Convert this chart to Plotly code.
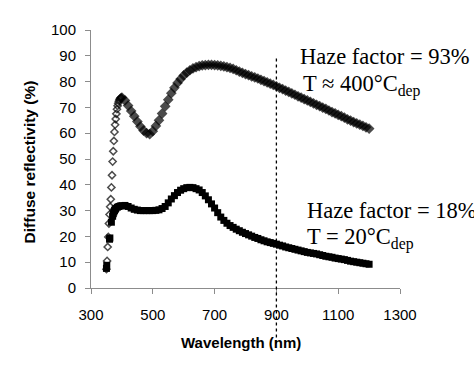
import plotly.graph_objects as go

# Haze factor = 93 % (T ~ 400 C) -- open diamonds
wl_hi = [350, 352, 354, 356, 358, 360, 362, 364, 366, 368, 370, 372, 374, 376, 378,
         380, 382, 384, 386, 388, 390, 392, 394, 396, 398, 400,
         410, 420, 430, 440, 450, 460, 470, 480, 490, 500,
         510, 520, 530, 540, 550, 560, 570, 580, 590, 600,
         610, 620, 630, 640, 650, 660, 670, 680, 690, 700,
         710, 720, 730, 740, 750, 760, 770, 780, 790, 800,
         810, 820, 830, 840, 850, 860, 870, 880, 890, 900,
         910, 920, 930, 940, 950, 960, 970, 980, 990, 1000,
         1010, 1020, 1030, 1040, 1050, 1060, 1070, 1080, 1090, 1100,
         1110, 1120, 1130, 1140, 1150, 1160, 1170, 1180, 1190, 1200]
r_hi = [7.3, 10.5, 15.9, 19.8, 25.0, 28.5, 31.5, 34.4, 39.0, 43.7, 49.0, 53.0, 57.0, 60.5, 63.3,
        65.5, 67.5, 69.3, 70.6, 71.6, 72.4, 73.0, 73.4, 73.7, 73.8, 73.8,
        72.7, 70.7, 68.6, 66.6, 64.5, 62.6, 61.0, 60.0, 59.6, 60.8,
        62.8, 65.0, 67.6, 70.4, 73.0, 75.5, 77.6, 79.5, 81.0, 82.4,
        83.5, 84.4, 85.1, 85.6, 86.0, 86.3, 86.4, 86.5, 86.5, 86.4,
        86.3, 86.1, 85.9, 85.6, 85.3, 84.9, 84.4, 83.9, 83.4, 82.9,
        82.5, 82.0, 81.6, 81.2, 80.7, 80.2, 79.7, 79.2, 78.7, 78.2,
        77.6, 77.1, 76.5, 76.0, 75.4, 74.9, 74.3, 73.8, 73.2, 72.7,
        72.1, 71.6, 71.0, 70.5, 69.9, 69.4, 68.8, 68.2, 67.7, 67.1,
        66.6, 66.0, 65.4, 64.9, 64.3, 63.8, 63.3, 62.8, 62.3, 61.8]

# Haze factor = 18 % (T = 20 C) -- filled squares
wl_lo = [350, 351, 360, 361, 366, 370, 372, 374, 376, 378, 380, 385, 390, 395, 400,
         410, 420, 430, 440, 450, 460, 470, 480, 490, 500,
         510, 520, 530, 540, 550, 560, 570, 580, 590, 600,
         610, 620, 630, 640, 650, 660, 670, 680, 690, 700,
         710, 720, 730, 740, 750, 760, 770, 780, 790, 800,
         810, 820, 830, 840, 850, 860, 870, 880, 890, 900,
         910, 920, 930, 940, 950, 960, 970, 980, 990, 1000,
         1010, 1020, 1030, 1040, 1050, 1060, 1070, 1080, 1090, 1100,
         1110, 1120, 1130, 1140, 1150, 1160, 1170, 1180, 1190, 1200]
r_lo = [7.6, 8.8, 18.9, 19.4, 25.5, 27.8, 28.8, 29.5, 30.0, 30.4, 30.8, 31.3, 31.6, 31.8, 31.9,
        32.0, 31.6, 31.0, 30.5, 30.2, 30.0, 30.0, 30.0, 30.0, 30.0,
        30.1, 30.3, 30.8, 31.6, 33.0, 34.5, 35.8, 37.0, 37.9, 38.5,
        38.9, 39.0, 38.9, 38.5, 38.0, 37.0, 35.7, 34.2, 32.6, 31.0,
        29.2, 27.5, 26.2, 25.1, 24.2, 23.5, 22.8, 22.2, 21.6, 21.1,
        20.6, 20.1, 19.6, 19.2, 18.7, 18.3, 17.9, 17.6, 17.3, 17.0,
        16.6, 16.3, 15.9, 15.6, 15.3, 15.0, 14.7, 14.4, 14.1, 13.8,
        13.6, 13.4, 13.2, 12.9, 12.6, 12.3, 12.1, 11.9, 11.6, 11.4,
        11.2, 11.0, 10.7, 10.4, 10.2, 10.0, 9.8, 9.6, 9.4, 9.2]

x_ticks = [300, 500, 700, 900, 1100, 1300]
y_ticks = [0, 10, 20, 30, 40, 50, 60, 70, 80, 90, 100]
marker_line_x = 900

# separate hollow diamonds where they stand apart; where they overlap they merge into a solid band
hi_symbol = ["diamond-open" if w <= 398 else "diamond" for w in wl_hi]
hi_outline = [1.5 if w <= 398 else 1.6 for w in wl_hi]
hi_size = [5.5 if w <= 398 else 6.5 for w in wl_hi]

fig = go.Figure()
fig.add_trace(go.Scatter(x=wl_lo, y=r_lo, mode="markers",
                         marker=dict(symbol="square", size=7, color="black",
                                     line=dict(width=0)),
                         showlegend=False))
fig.add_trace(go.Scatter(x=wl_hi, y=r_hi, mode="markers",
                         marker=dict(symbol=hi_symbol, size=hi_size, color="black",
                                     line=dict(width=hi_outline, color="black")),
                         showlegend=False))

fig.add_shape(type="line", xref="x", yref="paper", x0=marker_line_x, x1=marker_line_x,
              y0=-0.215, y1=0.895, line=dict(color="black", width=1.3, dash="dot"))

axis_col = "#8c8c8c"
fig.update_xaxes(range=[300, 1300], tickvals=x_ticks, ticks="outside", ticklen=5,
                 tickcolor=axis_col, showline=True, linecolor=axis_col, linewidth=1,
                 showgrid=False, zeroline=False,
                 tickfont=dict(family="Liberation Sans, Arial", size=15, color="black"),
                 ticklabelstandoff=8)
fig.update_yaxes(range=[0, 100], tickvals=y_ticks, ticks="outside", ticklen=5,
                 tickcolor=axis_col, showline=True, linecolor=axis_col, linewidth=1,
                 showgrid=False, zeroline=False,
                 tickfont=dict(family="Liberation Sans, Arial", size=15, color="black"),
                 ticklabelstandoff=6)

serif = dict(family="Liberation Serif, Times New Roman", size=22.5, color="black")
ann = [
    dict(text="Haze factor = 93%", x=970, y=0.898, xref="x", yref="paper",
         xanchor="left", yanchor="middle", showarrow=False, font=serif),
    dict(text="T ≈ 400°C<sub>dep</sub>", x=979, y=0.785, xref="x", yref="paper",
         xanchor="left", yanchor="middle", showarrow=False, font=serif),
    dict(text="Haze factor = 18%", x=994, y=0.3, xref="x", yref="paper",
         xanchor="left", yanchor="middle", showarrow=False, font=serif),
    dict(text="T = 20°C<sub>dep</sub>", x=994, y=0.19, xref="x", yref="paper",
         xanchor="left", yanchor="middle", showarrow=False, font=serif),
    dict(text="<b>Diffuse reflectivity (%)</b>", x=-0.198, y=0.49, xref="paper", yref="paper",
         xanchor="center", yanchor="middle", textangle=-90, showarrow=False,
         font=dict(family="Liberation Sans, Arial", size=15.5, color="black")),
    dict(text="<b>Wavelength (nm)</b>", x=0.485, y=-0.21, xref="paper", yref="paper",
         xanchor="center", yanchor="middle", showarrow=False,
         font=dict(family="Liberation Sans, Arial", size=15, color="black")),
]
fig.update_layout(width=474, height=377, margin=dict(l=91, r=74, t=30, b=89),
                  plot_bgcolor="white", paper_bgcolor="white", annotations=ann)

fig.write_html("out.html")
